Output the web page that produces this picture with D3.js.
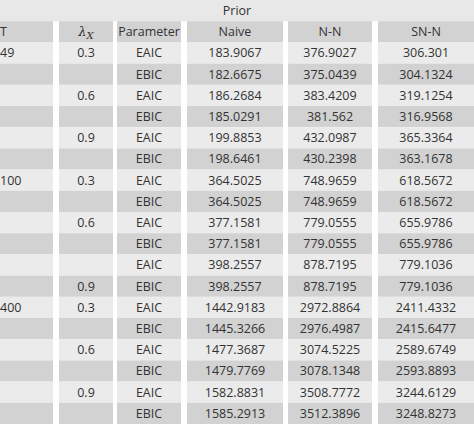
<!DOCTYPE html><html><head><meta charset="utf-8">
<script src="https://cdn.jsdelivr.net/npm/d3@7"></script>
<style>body{margin:0;background:#fff}</style></head><body><svg id="c" width="474" height="424"></svg>
<script>
const headers=["T","λx","Parameter","Naive","N-N","SN-N"];
const tCol=["49","","","","","","100","","","","","","400","","","","",""];
const lamCol=["0.3","","0.6","","0.9","","0.3","","0.6","","","0.9","0.3","","0.6","","0.9",""];
const paramCol=["EAIC","EBIC","EAIC","EBIC","EAIC","EBIC","EAIC","EBIC","EAIC","EBIC","EAIC","EBIC","EAIC","EBIC","EAIC","EBIC","EAIC","EBIC"];
const naive=["183.9067","182.6675","186.2684","185.0291","199.8853","198.6461","364.5025","364.5025","377.1581","377.1581","398.2557","398.2557","1442.9183","1445.3266","1477.3687","1479.7769","1582.8831","1585.2913"];
const nn=["376.9027","375.0439","383.4209","381.562","432.0987","430.2398","748.9659","748.9659","779.0555","779.0555","878.7195","878.7195","2972.8864","2976.4987","3074.5225","3078.1348","3508.7772","3512.3896"];
const snn=["306.301","304.1324","319.1254","316.9568","365.3364","363.1678","618.5672","618.5672","655.9786","655.9786","779.1036","779.1036","2411.4332","2415.6477","2589.6749","2593.8893","3244.6129","3248.8273"];
const cols=[[0,53],[59,113],[117,181],[187,283],[288,372],[378,474]];
const data=[tCol,lamCol,paramCol,naive,nn,snn];
const svg=d3.select("#c");
const y=d3.scaleBand().domain(d3.range(20)).range([0,424]).padding(0);
const font="'Open Sans', Lato, sans-serif";
svg.append("rect").attr("x",0).attr("y",y(0)).attr("width",474).attr("height",y.bandwidth()).attr("fill","#e8e8e8");
svg.append("text").attr("x",237).attr("y",y(0)+y.bandwidth()/2).attr("dy","0.35em").attr("text-anchor","middle").attr("font-family",font).attr("font-size",12.5).attr("fill","#333").text("Prior");
for(let r=1;r<20;r++){
  const fill=(r%2===1)?"#d2d2d2":"#ebebeb";
  cols.forEach(([a,b],ci)=>{
    svg.append("rect").attr("x",a).attr("y",y(r)).attr("width",b-a).attr("height",y.bandwidth()).attr("fill",fill);
    const txt=r===1?headers[ci]:data[ci][r-2];
    if(!txt)return;
    const t=svg.append("text").attr("y",y(r)+y.bandwidth()/2).attr("dy","0.35em").attr("font-family",font).attr("font-size",12.5).attr("fill","#333");
    if(ci===0)t.attr("x",a).attr("text-anchor","start");else t.attr("x",(a+b)/2).attr("text-anchor","middle");
    if(r===1&&ci===1){t.attr("font-style","italic").attr("font-family","'DejaVu Serif',serif");t.append("tspan").text("λ");t.append("tspan").attr("font-size",10).attr("dy","3").text("X");}
    else t.text(txt);
  });
}
</script></body></html>
